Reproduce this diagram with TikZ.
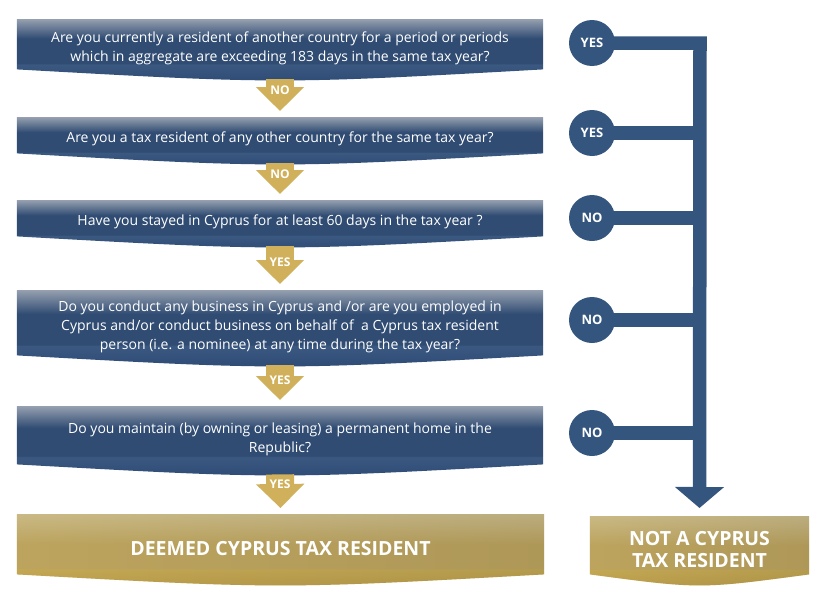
\documentclass[tikz,border=0pt]{standalone}
\usepackage{fontspec}
\setmainfont{Open Sans}
\usetikzlibrary{arrows.meta,backgrounds}

\definecolor{navy}{RGB}{52,85,126}
\definecolor{qtop}{RGB}{150,160,176}
\definecolor{qdark}{RGB}{48,76,115}
\definecolor{qband}{RGB}{58,88,128}
\definecolor{qbot}{RGB}{44,74,116}
\definecolor{gtop}{RGB}{228,216,172}
\definecolor{gmid}{RGB}{208,183,112}
\definecolor{gband}{RGB}{218,188,96}
\definecolor{gbot}{RGB}{204,172,82}
\definecolor{gold}{RGB}{208,176,90}

\pgfdeclareverticalshading{qshade}{100bp}{color(0bp)=(qbot); color(25bp)=(qbot); color(40bp)=(qband); color(41bp)=(qdark); color(60bp)=(qdark); color(75bp)=(qtop); color(100bp)=(qtop)}
\pgfdeclareverticalshading{gshade}{100bp}{color(0bp)=(gbot); color(25bp)=(gbot); color(38bp)=(gband); color(39bp)=(gmid); color(55bp)=(gmid); color(75bp)=(gtop); color(100bp)=(gtop)}

\begin{document}
\begin{tikzpicture}[x=1pt,y=-1pt,
    qbox/.style={anchor=north, minimum width=526pt, inner sep=0pt, text=white, align=center, font=\fontsize{14}{19}\selectfont},
    gbox/.style={anchor=north, inner sep=0pt, text=white, align=center, font=\bfseries\fontsize{19.5}{22}\selectfont},
    reply/.style={circle, fill=navy, minimum size=46pt, inner sep=0pt, text=white, font=\bfseries\fontsize{13}{13}\selectfont},
    flowarrow/.style={line width=28pt, draw=gold, -{Triangle[width=47pt,length=24pt]}, shorten <=2pt, shorten >=6pt},
    ynlabel/.style={text=white, font=\bfseries\fontsize{12}{12}\selectfont},
    branch/.style={line width=13.5pt, draw=navy, line join=miter}]
    \useasboundingbox (0,0) rectangle (830,605);

    \node[qbox, minimum height=58pt] (q1) at (280,19) {Are you currently a resident of another country for a period or periods\\which in aggregate are exceeding 183 days in the same tax year?};
    \node[qbox, minimum height=44pt] (q2) at (280,117) {Are you a tax resident of any other country for the same tax year?};
    \node[qbox, minimum height=44pt] (q3) at (280,200) {Have you stayed in Cyprus for at least 60 days in the tax year ?};
    \node[qbox, minimum height=73pt] (q4) at (280,290) {Do you conduct any business in Cyprus and /or are you employed in\\Cyprus and/or conduct business on behalf of \ a Cyprus tax resident\\person (i.e. a nominee) at any time during the tax year?};
    \node[qbox, minimum height=66pt] (q5) at (280,406) {Do you maintain (by owning or leasing) a permanent home in the\\Republic?};

    \node[gbox, minimum width=527pt, minimum height=68pt] (res) at (280.5,514) {DEEMED CYPRUS TAX RESIDENT};
    \node[gbox, minimum width=219pt, minimum height=66pt] (nres) at (699.5,516) {NOT A CYPRUS\\TAX RESIDENT};

    \node[reply] (y1) at (592,43) {YES};
    \node[reply] (y2) at (592,133) {YES};
    \node[reply] (n3) at (592,218) {NO};
    \node[reply] (n4) at (592,320) {NO};
    \node[reply] (n5) at (592,433) {NO};
    \coordinate (turn) at (700,43);

    \begin{scope}[on background layer]
    \foreach \n in {q1,q2,q3,q4,q5}
        \shade[shading=qshade] (\n.north west) -- (\n.north east) -- ([yshift=8pt]\n.south east) .. controls ([yshift=-6.7pt]\n.south) .. ([yshift=8pt]\n.south west) -- cycle;
    \foreach \n in {res,nres} {
        \shade[shading=gshade] (\n.north west) -- (\n.north east) -- ([yshift=8pt]\n.south east) .. controls ([yshift=-6.7pt]\n.south) .. ([yshift=8pt]\n.south west) -- cycle;
        \shade[fill opacity=0.35, left color=gbot!75!black, middle color=gtop, right color=gbot!55!black] (\n.north west) -- (\n.north east) -- ([yshift=8pt]\n.south east) .. controls ([yshift=-6.7pt]\n.south) .. ([yshift=8pt]\n.south west) -- cycle;
    }

    \draw[branch, -{Triangle[width=48pt,length=21pt]}, shorten >=8pt] (y1.center) -- (turn) -- (nres.north);
    \draw[branch] (y2.center) -- (y2 -| turn);
    \draw[branch] (n3.center) -- (n3 -| turn);
    \draw[branch] (n4.center) -- (n4 -| turn);
    \draw[branch] (n5.center) -- (n5 -| turn);
    \end{scope}

    \draw[flowarrow] (q1.south) -- (q2.north) node[ynlabel, pos=0.33] {NO};
    \draw[flowarrow] (q2.south) -- (q3.north) node[ynlabel, pos=0.33] {NO};
    \draw[flowarrow] (q3.south) -- (q4.north) node[ynlabel, pos=0.39] {YES};
    \draw[flowarrow] (q4.south) -- (q5.north) node[ynlabel, pos=0.4] {YES};
    \draw[flowarrow] (q5.south) -- (res.north) node[ynlabel, pos=0.28] {YES};
\end{tikzpicture}
\end{document}
